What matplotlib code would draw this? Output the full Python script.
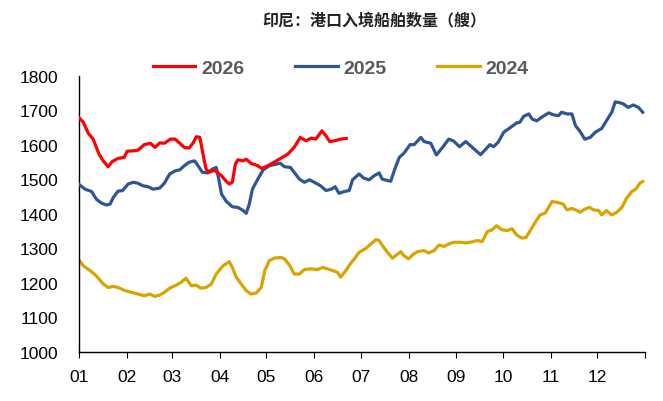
import matplotlib
matplotlib.use("Agg")
import matplotlib.pyplot as plt

plt.rcParams['font.family'] = ['Liberation Sans', 'Noto Sans CJK SC', 'DejaVu Sans']

# day of year / vessel count
days_2026 = [0, 2.6, 5.8, 9, 12.7, 15.5, 18.7, 21.3, 25, 29, 31, 35, 38, 42, 46, 49, 52, 55, 59, 62,
             65, 68, 71, 73.5, 75.7, 78, 80, 82, 84, 87.5, 92, 95, 97, 99, 101, 102.6, 106, 108, 111,
             115.5, 118, 122, 126, 130.6, 135, 139, 143, 146.7, 150, 153, 157, 160, 162, 165, 169, 172.7]
vals_2026 = [1678, 1666, 1634, 1617, 1574, 1554, 1537, 1552, 1561, 1564, 1582, 1583, 1585, 1601, 1605,
             1593, 1606, 1605, 1617, 1617, 1605, 1593, 1591, 1605, 1624, 1622, 1574, 1530, 1521, 1527,
             1511, 1495, 1487, 1492, 1545, 1557, 1554, 1559, 1547, 1540, 1532, 1540, 1550, 1562, 1574,
             1593, 1622, 1612, 1620, 1617, 1641, 1624, 1610, 1612, 1617, 1619]

days_2025 = [0, 3.7, 8, 11, 14.5, 17.7, 20, 22, 25, 28, 31.6, 35, 38, 41, 44.5, 47.7, 52, 55, 58.5, 62,
             65, 68, 71, 74.6, 76.8, 79.6, 83, 86, 88.6, 90, 92, 95, 99, 102.6, 106, 108, 110, 112,
             115.5, 119, 123, 126, 130, 132.7, 136.6, 139, 142.4, 145.6, 149, 152, 156, 159.6, 163,
             165.5, 168, 171.4, 174.6, 176.8, 181, 184, 187.5, 190.8, 194, 196, 199.4, 201.5, 203.7,
             207, 210, 214, 216.6, 221, 223, 227.4, 231, 235, 239, 242, 246, 250, 253, 256, 259.6, 263,
             265.6, 268, 271, 274.6, 279, 283, 285, 287.5, 290.8, 293, 296, 299, 303.7, 307, 310, 312,
             315.5, 318.7, 321, 324, 327, 330.6, 333.8, 338, 341, 344.5, 346.7, 350, 352, 355, 358.5,
             361.7, 364.5]
vals_2025 = [1485, 1472, 1465, 1443, 1431, 1426, 1429, 1448, 1466, 1468, 1487, 1492, 1489, 1482, 1479,
             1472, 1475, 1489, 1516, 1525, 1528, 1540, 1550, 1554, 1540, 1521, 1519, 1530, 1535, 1506,
             1458, 1437, 1421, 1419, 1410, 1402, 1429, 1472, 1501, 1528, 1540, 1543, 1547, 1537, 1535,
             1521, 1501, 1492, 1499, 1492, 1482, 1468, 1472, 1479, 1460, 1465, 1468, 1499, 1516, 1504,
             1499, 1511, 1519, 1501, 1497, 1495, 1525, 1564, 1576, 1601, 1601, 1622, 1610, 1605, 1571,
             1593, 1617, 1612, 1595, 1610, 1598, 1586, 1572, 1588, 1601, 1595, 1608, 1637, 1651, 1664,
             1666, 1683, 1690, 1675, 1670, 1680, 1693, 1687, 1685, 1695, 1690, 1690, 1656, 1639, 1617,
             1622, 1637, 1648, 1670, 1695, 1725, 1722, 1719, 1709, 1716, 1709, 1695]

days_2024 = [0, 2.6, 7, 11, 15.5, 18.7, 22, 25, 29.5, 33.8, 38, 42, 45.6, 48.8, 52, 55, 58.5, 62.8, 66,
             69, 72.5, 75.7, 78.5, 82, 85.4, 88.6, 93, 97, 99, 101.5, 104.8, 108, 111, 114.5, 117.7,
             120, 123, 126, 130.6, 132.7, 136, 139, 142.4, 145.6, 150, 154, 157.4, 160.6, 164, 167,
             169, 172.5, 175.7, 178, 181, 185, 188.6, 192, 194, 197, 199.4, 202.6, 206, 208, 210, 213,
             215.5, 218.7, 223, 226, 229.5, 232.7, 236, 239, 242.4, 246.7, 250, 253, 257.4, 260.6, 264,
             267, 270, 273.5, 276.8, 280, 283, 286.5, 289, 292, 295, 298, 301.5, 305.8, 309, 313, 315.5,
             318.7, 321, 324, 327, 330, 332.7, 336, 338, 341, 344.5, 347.7, 351, 354, 357.4, 360, 362.8,
             364.5]
vals_2024 = [1265, 1250, 1236, 1221, 1197, 1187, 1190, 1187, 1178, 1173, 1168, 1163, 1168, 1161, 1165,
             1173, 1185, 1194, 1202, 1214, 1192, 1194, 1185, 1187, 1197, 1226, 1250, 1262, 1245, 1217,
             1197, 1178, 1168, 1171, 1187, 1236, 1265, 1272, 1274, 1270, 1252, 1226, 1226, 1239, 1241,
             1239, 1245, 1241, 1236, 1231, 1217, 1236, 1258, 1270, 1289, 1299, 1313, 1326, 1323, 1303,
             1289, 1272, 1284, 1291, 1279, 1270, 1281, 1291, 1294, 1287, 1294, 1310, 1306, 1313, 1318,
             1318, 1316, 1318, 1323, 1320, 1349, 1354, 1366, 1354, 1352, 1357, 1339, 1330, 1332, 1354,
             1376, 1397, 1403, 1436, 1434, 1429, 1412, 1416, 1412, 1405, 1414, 1419, 1412, 1410, 1397,
             1410, 1397, 1405, 1419, 1445, 1465, 1472, 1490, 1494]

month_starts = [0, 31, 60, 91, 121, 152, 182, 213, 244, 274, 305, 335, 366]
month_labels = ['01', '02', '03', '04', '05', '06', '07', '08', '09', '10', '11', '12', '']

fig = plt.figure(figsize=(6.63, 4.02), dpi=100)
ax = fig.add_axes([0.1196, 0.1219, 0.8533, 0.6866])

ax.plot(days_2026, vals_2026, color='#FF0000', lw=2.3, label='2026', zorder=4)
ax.plot(days_2025, vals_2025, color='#2F5597', lw=2.3, label='2025', zorder=3)
ax.plot(days_2024, vals_2024, color='#D9A400', lw=2.3, label='2024', zorder=2)

ax.set_xlim(0, 366)
ax.set_ylim(1000, 1800)
ax.set_yticks(range(1000, 1801, 100))
ax.set_xticks(month_starts)
ax.set_xticklabels(month_labels)
ax.tick_params(axis='y', length=0, pad=15, labelsize=12.5)
ax.tick_params(axis='x', length=4, pad=8, labelsize=12.5, direction='out')
for s in ['top', 'right']:
    ax.spines[s].set_visible(False)
ax.spines['left'].set_linewidth(1.0)
ax.spines['bottom'].set_linewidth(1.0)

leg = ax.legend(loc='center', bbox_to_anchor=(0.514, 0.828), bbox_transform=fig.transFigure,
                ncol=3, frameon=False, handlelength=2.2, handletextpad=0.3, columnspacing=2.6,
                prop={'size': 14, 'weight': 'bold'})
for t in leg.get_texts():
    t.set_color('#595959')

fig.text(0.565, 0.948, '印尼：港口入境船舶数量（艘）', ha='center', va='center', fontsize=11.5,
         family=['Noto Sans CJK SC'], weight='bold', color='#222222')

fig.savefig('out.png', dpi=100)
